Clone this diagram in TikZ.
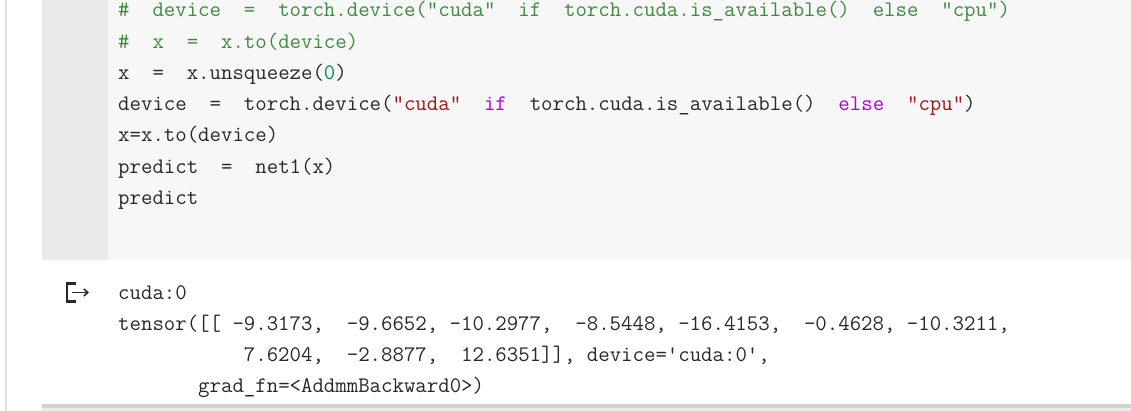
\documentclass[tikz,border=0pt]{standalone}
\usepackage{fontspec}
\usetikzlibrary{arrows.meta}
\definecolor{cmt}{RGB}{60,140,60}
\definecolor{str}{RGB}{163,21,21}
\definecolor{kw}{RGB}{175,0,219}
\definecolor{num}{RGB}{9,134,88}
\definecolor{txt}{RGB}{40,40,40}
\definecolor{gut}{RGB}{234,234,234}
\definecolor{codebg}{RGB}{247,247,247}
\tikzset{codeline/.style={anchor=base west, inner sep=0pt, font=\ttfamily\fontsize{22.2}{24}\selectfont, text=txt}}
\begin{document}
\begin{tikzpicture}[x=1pt,y=-1pt]
\useasboundingbox (0,0) rectangle (1131,411);
\fill[white] (0,0) rectangle (1131,411);
\draw[gray!25, line width=1.5] (6,0) -- (6,411);
\fill[gut] (42,0) rectangle (108,260);
\fill[codebg] (108,0) rectangle (1131,260);
\fill[gray!35] (42,404) rectangle (1131,408);
\fill[gray!15] (42,408) rectangle (1131,411);
\fill[white] (42,260) rectangle (1131,404);
\node[codeline, text=cmt] (l1) at (118,17) {\#~~device~~=~~torch.device("cuda"~~if~~torch.cuda.is\_available()~~else~~"cpu")};
\node[codeline, text=cmt] (l2) at (118,49) {\#~~x~~=~~x.to(device)};
\node[codeline] (l3) at (118,80) {x~~=~~x.unsqueeze(\textcolor{num}{0})};
\node[codeline] (l4) at (118,111) {device~~=~~torch.device(\textcolor{str}{"cuda"}~~\textcolor{kw}{if}~~torch.cuda.is\_available()~~\textcolor{kw}{else}~~\textcolor{str}{"cpu"})};
\node[codeline] (l5) at (118,142) {x=x.to(device)};
\node[codeline] (l6) at (118,174) {predict~~=~~net1(x)};
\node[codeline] (l7) at (118,205) {predict};
\draw[line width=2.2, txt] (76,283.5) -- (67,283.5) -- (67,301.5) -- (76,301.5);
\draw[line width=1.6, txt, -{Straight Barb[length=4pt,width=7pt]}] (72,292.5) -- (89,292.5);
\node[codeline] (o1) at (118,299) {cuda:0};
\node[codeline] (o2) at (118,330) {tensor([[~-9.3173,~~-9.6652,~-10.2977,~~-8.5448,~-16.4153,~~-0.4628,~-10.3211,};
\node[codeline] (o3) at (118,361) {~~~~~~~~~~~7.6204,~~-2.8877,~~12.6351]],~device='cuda:0',};
\node[codeline] (o4) at (118,392) {~~~~~~~grad\_fn=<AddmmBackward0>)};
\end{tikzpicture}
\end{document}
